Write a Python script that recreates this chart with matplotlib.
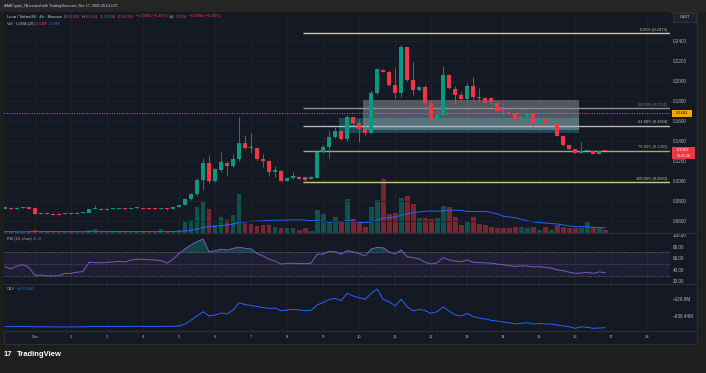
import numpy as np
import pandas as pd
import matplotlib
matplotlib.use("Agg")
import matplotlib.pyplot as plt
import matplotlib.transforms as mtransforms
from matplotlib.patches import Rectangle
from matplotlib.lines import Line2D

plt.rcParams['font.family'] = ['Liberation Sans', 'DejaVu Sans']

# LUNA/USDT 4h candles
opens = [
    0.0717, 0.0730, 0.0717, 0.0732, 0.0732, 0.0722, 0.0669, 0.0672, 0.0669, 0.0669,
    0.0667, 0.0677, 0.0674, 0.0674, 0.0680, 0.0720, 0.0721, 0.0712, 0.0717, 0.0719,
    0.0723, 0.0719, 0.0722, 0.0727, 0.0727, 0.0727, 0.0723, 0.0722, 0.0714, 0.0737,
    0.0757, 0.0817, 0.0868, 0.1008, 0.1182, 0.0998, 0.1108, 0.1179, 0.1149, 0.1216,
    0.1382, 0.1336, 0.1329, 0.1219, 0.1202, 0.1091, 0.1098, 0.1001, 0.1025, 0.1041,
    0.1035, 0.1018, 0.1031, 0.1286, 0.1339, 0.1443, 0.1497, 0.1416, 0.1637, 0.1577,
    0.1520, 0.1477, 0.1878, 0.2112, 0.2095, 0.1961, 0.1878, 0.2339, 0.2011, 0.1911,
    0.1944, 0.1784, 0.1617, 0.1660, 0.2062, 0.1921, 0.1861, 0.1818, 0.1951, 0.1838,
    0.1831, 0.1828, 0.1778, 0.1705, 0.1693, 0.1677, 0.1617, 0.1637, 0.1670, 0.1577,
    0.1620, 0.1574, 0.1577, 0.1453, 0.1359, 0.1316, 0.1282, 0.1299, 0.1302, 0.1269,
    0.1309]
highs = [
    0.0742, 0.0737, 0.0737, 0.0737, 0.0737, 0.0727, 0.0677, 0.0674, 0.0672, 0.0672,
    0.0677, 0.0680, 0.0682, 0.0684, 0.0717, 0.0752, 0.0724, 0.0722, 0.0720, 0.0727,
    0.0727, 0.0727, 0.0734, 0.0730, 0.0730, 0.0730, 0.0727, 0.0727, 0.0737, 0.0762,
    0.0827, 0.0878, 0.1023, 0.1229, 0.1259, 0.1128, 0.1289, 0.1199, 0.1269, 0.1643,
    0.1460, 0.1480, 0.1339, 0.1269, 0.1209, 0.1149, 0.1108, 0.1028, 0.1091, 0.1048,
    0.1038, 0.1048, 0.1309, 0.1359, 0.1510, 0.1543, 0.1510, 0.1660, 0.1640, 0.1620,
    0.1577, 0.1911, 0.2132, 0.2117, 0.2102, 0.2132, 0.2363, 0.2347, 0.2195, 0.1951,
    0.1961, 0.1811, 0.1730, 0.2152, 0.2072, 0.1951, 0.1894, 0.1978, 0.2045, 0.1928,
    0.1836, 0.1844, 0.1781, 0.1794, 0.1700, 0.1680, 0.1677, 0.1710, 0.1675, 0.1625,
    0.1625, 0.1590, 0.1580, 0.1460, 0.1364, 0.1324, 0.1392, 0.1309, 0.1309, 0.1309,
    0.1314]
lows = [
    0.0712, 0.0712, 0.0712, 0.0727, 0.0712, 0.0662, 0.0667, 0.0662, 0.0657, 0.0660,
    0.0664, 0.0667, 0.0672, 0.0672, 0.0678, 0.0717, 0.0710, 0.0710, 0.0714, 0.0717,
    0.0712, 0.0717, 0.0719, 0.0717, 0.0717, 0.0717, 0.0720, 0.0702, 0.0712, 0.0732,
    0.0752, 0.0812, 0.0848, 0.0908, 0.0978, 0.0988, 0.1088, 0.1048, 0.1139, 0.1202,
    0.1324, 0.1279, 0.1209, 0.1141, 0.1048, 0.1038, 0.0993, 0.0998, 0.1018, 0.1013,
    0.0978, 0.1013, 0.1025, 0.1279, 0.1229, 0.1434, 0.1409, 0.1404, 0.1570, 0.1392,
    0.1460, 0.1470, 0.1871, 0.2087, 0.1951, 0.1831, 0.1844, 0.2001, 0.1861, 0.1901,
    0.1693, 0.1603, 0.1570, 0.1650, 0.1921, 0.1771, 0.1794, 0.1761, 0.1811, 0.1794,
    0.1776, 0.1761, 0.1695, 0.1660, 0.1675, 0.1610, 0.1610, 0.1630, 0.1527, 0.1570,
    0.1565, 0.1565, 0.1445, 0.1349, 0.1309, 0.1274, 0.1274, 0.1289, 0.1264, 0.1264,
    0.1294]
closes = [
    0.0732, 0.0717, 0.0730, 0.0734, 0.0717, 0.0667, 0.0675, 0.0664, 0.0662, 0.0662,
    0.0675, 0.0669, 0.0679, 0.0682, 0.0714, 0.0722, 0.0712, 0.0719, 0.0717, 0.0725,
    0.0714, 0.0725, 0.0732, 0.0719, 0.0719, 0.0719, 0.0724, 0.0712, 0.0734, 0.0754,
    0.0817, 0.0868, 0.1008, 0.1182, 0.0998, 0.1118, 0.1189, 0.1149, 0.1219, 0.1382,
    0.1334, 0.1333, 0.1216, 0.1196, 0.1091, 0.1108, 0.1001, 0.1025, 0.1048, 0.1018,
    0.1008, 0.1041, 0.1289, 0.1339, 0.1443, 0.1500, 0.1416, 0.1637, 0.1577, 0.1523,
    0.1477, 0.1878, 0.2119, 0.2095, 0.1961, 0.1878, 0.2339, 0.2011, 0.1911, 0.1944,
    0.1784, 0.1617, 0.1660, 0.2062, 0.1928, 0.1861, 0.1818, 0.1951, 0.1838, 0.1831,
    0.1784, 0.1794, 0.1703, 0.1700, 0.1683, 0.1617, 0.1637, 0.1670, 0.1577, 0.1620,
    0.1570, 0.1578, 0.1453, 0.1359, 0.1316, 0.1282, 0.1302, 0.1301, 0.1269, 0.1302,
    0.1303]
# volume in millions of LUNA
volumes = [
    1.1, 0.8, 0.7, 0.7, 1.1, 2.1, 1.1, 1.1, 0.8, 0.8,
    0.7, 0.8, 0.7, 0.8, 1.8, 2.5, 1.1, 0.8, 0.7, 0.7,
    0.8, 0.7, 0.8, 0.8, 0.7, 1.1, 2.5, 1.1, 1.4, 1.8,
    7.4, 8.8, 17.9, 22.4, 16.8, 5.6, 11.2, 8.8, 12.6, 27.3,
    7.0, 6.5, 4.9, 5.6, 5.6, 3.9, 3.2, 3.2, 3.5, 2.3,
    3.7, 1.5, 16.1, 13.0, 8.4, 11.0, 8.6, 23.8, 9.8, 6.8,
    4.0, 18.0, 23.3, 38.0, 13.5, 14.2, 24.3, 26.1, 20.1, 10.7,
    10.3, 9.6, 10.7, 18.7, 18.0, 11.4, 5.8, 7.5, 11.0, 6.1,
    5.8, 4.0, 3.3, 3.3, 3.3, 4.0, 4.0, 3.3, 4.0, 2.1,
    4.0, 2.3, 5.4, 4.0, 3.3, 3.3, 3.3, 7.5, 3.3, 3.3,
    2.32]
rsi = [
    45, 42, 46.5, 49, 44, 30.5, 31, 30, 29.5, 30,
    34, 34, 36, 37, 53, 52.5, 52, 53, 53.5, 54.5,
    53.5, 57, 58.5, 58, 57.5, 57, 56, 51.5, 58, 68,
    76, 83, 88.5, 93, 71, 73, 75.5, 74, 77, 79,
    77, 76, 68, 64, 58, 55, 50, 51, 51.5, 51,
    50.5, 51.5, 66.8, 67.3, 72, 71.3, 66.8, 73, 71, 68,
    64, 76, 78.5, 78, 71, 67.3, 74.2, 62.5, 61, 59,
    53, 50.1, 52, 61, 57, 55, 54, 57, 53, 52.5,
    52, 51.5, 50, 49, 47.2, 46, 47, 46.5, 45, 45.5,
    44.5, 43, 40, 38.6, 36, 34, 34.5, 35.8, 34, 36.5,
    35.18]
# on-balance volume, millions
obv = [
    -468, -470, -469, -468, -470, -472, -471, -472, -473, -474,
    -473, -474, -473, -472, -470, -468, -469, -468, -468, -467,
    -468, -467, -466, -467, -468, -469, -466, -467, -466, -462,
    -437, -387, -336, -283, -336, -324, -299, -311, -261, -170,
    -192, -205, -217, -230, -242, -236, -270, -262, -252, -261,
    -270, -267, -198, -167, -129, -114, -144, -52, -85, -107,
    -127, -54, 2.5, -127, -157, -211, -127, -220, -274, -252,
    -270, -303, -283, -220, -274, -324, -336, -303, -345, -362,
    -374, -390, -399, -412, -421, -437, -428, -421, -437, -431,
    -437, -437, -449, -460, -471, -491, -471, -478, -491, -487,
    -483]

day_labels = ['Dec', '2', '3', '4', '5', '6', '7', '8', '9', '10',
              '11', '12', '13', '14', '15', '16', '17', '18']
dec1_candle = 5          # candle index at Dec 1 00:00
candles_per_day = 6

fib_levels = [0.2479, 0.1731, 0.1554, 0.1303, 0.0983]
fib_names = ['0.00%', '50.00%', '61.80%', '78.60%', '100.00%']
fib_colors = ['#cdc7a0', '#8e8e8e', '#b9b9b9', '#a9a67c', '#cbc47f']
fib_start = 49.7

gray_zone = (59.7, 95.7, 0.1510, 0.1811)   # x0, x1, low, high
teal_zone = (55.7, 95.7, 0.1477, 0.1630)
alert_price = 0.1681

W, H = 706, 373
BG = '#151924'
GRID = '#1e222d'
TXT = '#b2b5be'
UP = '#089981'
DOWN = '#f23645'
BLUE = '#2962ff'
PURPLE = '#7e57c2'


def pane(fig, y0, y1, sharex=None):
    ax = fig.add_axes([4 / W, 1 - y1 / H, 666 / W, (y1 - y0) / H], sharex=sharex)
    ax.set_facecolor(BG)
    for s in ax.spines.values():
        s.set_visible(False)
    ax.tick_params(length=0, labelsize=3.3, colors=TXT, pad=2.2,
                   labelbottom=False, labelleft=False, left=False, bottom=False)
    return ax


def fig_rect(fig, x0, y0, x1, y1, z=5, **kw):
    fig.add_artist(Rectangle((x0 / W, 1 - y1 / H), (x1 - x0) / W, (y1 - y0) / H,
                             transform=fig.transFigure, zorder=z, **kw))


def fig_text(fig, x, y, s, **kw):
    return fig.text(x / W, 1 - y / H, s, zorder=6, **kw)


def text_run(fig, x, y, parts, size):
    r = fig.canvas.get_renderer()
    for s, c in parts:
        t = fig_text(fig, x, y, s, color=c, fontsize=size, va='center', ha='left')
        x += t.get_window_extent(renderer=r).width + 1.5


def main():
    fig = plt.figure(figsize=(W / 100, H / 100), dpi=100, facecolor='#1e1e1e')
    fig_rect(fig, 0, 0, W, 12, z=-10, facecolor='#262626', lw=0)
    fig_rect(fig, 4, 12, 697, 344, z=-10, facecolor=BG, edgecolor='#2a2e39', lw=0.8)

    x = np.arange(len(closes))
    o, h, l, c = map(np.array, (opens, highs, lows, closes))
    up = c >= o
    colors = np.where(up, UP, DOWN)
    days = [dec1_candle + candles_per_day * k for k in range(len(day_labels))]

    # volume sits under the price pane
    ax_vol = pane(fig, 12, 233)
    ax_vol.bar(x, volumes, width=0.8, color=colors, alpha=0.45, lw=0)
    vma = pd.Series(volumes).rolling(20, min_periods=1).mean()
    ax_vol.plot(x, vma, color=BLUE, lw=0.7)
    ax_vol.set_ylim(0, 154.7)
    ax_vol.set_xticks(days)
    ax_vol.grid(axis='x', color=GRID, lw=0.6)
    ax_vol.set_axisbelow(True)
    ax_vol.set_yticks([])

    ax = pane(fig, 12, 233, sharex=ax_vol)
    ax.patch.set_alpha(0)
    ax.set_ylim(0.0476, 0.2694)
    ax.set_xlim(-0.17, 110.8)
    ticks = np.round(np.arange(0.06, 0.2401, 0.02), 2)
    ax.set_yticks(ticks)
    ax.set_yticklabels([f'{t:.4f}' for t in ticks])
    ax.yaxis.tick_right()
    ax.tick_params(axis='y', labelright=True, right=False)
    ax.grid(axis='y', color=GRID, lw=0.6)
    ax.set_axisbelow(True)

    ax.add_patch(Rectangle((teal_zone[0], teal_zone[2]), teal_zone[1] - teal_zone[0],
                           teal_zone[3] - teal_zone[2], facecolor='#26a0a8', alpha=0.35, lw=0, zorder=1))
    ax.add_patch(Rectangle((gray_zone[0], gray_zone[2]), gray_zone[1] - gray_zone[0],
                           gray_zone[3] - gray_zone[2], facecolor='#b2b5be', alpha=0.4, lw=0, zorder=1))

    ax.axhline(alert_price, color='#f7a600', lw=0.6, ls=(0, (1, 2)), zorder=2)

    trans = mtransforms.blended_transform_factory(ax.transAxes, ax.transData)
    for lvl, name, col in zip(fib_levels, fib_names, fib_colors):
        ax.hlines(lvl, fib_start, 110.8, color=col, lw=1.0, zorder=2)
        ax.text(0.996, lvl + 0.0012, f'{name} ({lvl:.4f})', transform=trans,
                ha='right', va='bottom', fontsize=2.9, color=col)

    ax.vlines(x, l, h, colors=colors, lw=0.6, zorder=3)
    body = np.maximum(np.abs(c - o), 0.0010)
    mid = (c + o) / 2
    ax.bar(x, body, bottom=mid - body / 2, width=0.72, color=colors, lw=0, zorder=4)

    # RSI pane
    ax_rsi = pane(fig, 233, 284, sharex=ax_vol)
    r = np.array(rsi)
    ax_rsi.axhspan(30, 70, color=PURPLE, alpha=0.1, lw=0)
    for lvl, ls in ((70, (0, (2, 2))), (50, (0, (1, 2))), (30, (0, (2, 2)))):
        ax_rsi.axhline(lvl, color='#787b86', lw=0.5, ls=ls)
    ax_rsi.fill_between(x, r, 70, where=r > 70, interpolate=True, color=UP, alpha=0.35, lw=0)
    ax_rsi.fill_between(x, r, 30, where=r < 30, interpolate=True, color=DOWN, alpha=0.35, lw=0)
    ax_rsi.plot(x, r, color=PURPLE, lw=0.7)
    ax_rsi.set_ylim(15.7, 103.4)
    ax_rsi.set_yticks([20, 40, 60, 80, 100])
    ax_rsi.set_yticklabels(['20.00', '40.00', '60.00', '80.00', '100.00'])
    ax_rsi.yaxis.tick_right()
    ax_rsi.tick_params(axis='y', labelright=True, right=False)
    ax_rsi.grid(axis='x', color=GRID, lw=0.6)
    ax_rsi.set_axisbelow(True)

    # OBV pane
    ax_obv = pane(fig, 284, 331, sharex=ax_vol)
    ax_obv.plot(x, obv, color=BLUE, lw=0.7)
    ax_obv.set_ylim(-524.7, 65.3)
    ax_obv.set_yticks([-126.8, -336.44])
    ax_obv.set_yticklabels(['\u2212126.8M', '\u2212336.44M'])
    ax_obv.yaxis.tick_right()
    ax_obv.tick_params(axis='y', labelright=True, right=False)
    ax_obv.set_xticklabels(day_labels)
    ax_obv.tick_params(axis='x', labelbottom=True, labelsize=3, pad=3)
    ax_obv.grid(axis='x', color=GRID, lw=0.6)
    ax_obv.set_axisbelow(True)
    ax_obv.set_xlim(-0.17, 110.8)

    for yy in (233, 284, 331):
        fig.add_artist(Line2D([4 / W, 697 / W], [1 - yy / H] * 2, color='#2a2e39', lw=0.8, zorder=5))

    # price scale badges
    fig_rect(fig, 673, 13, 696, 22, facecolor='#1e222d', edgecolor='#363a45', lw=0.5)
    fig_text(fig, 684.5, 17.5, 'USDT', fontsize=2.8, color='#d1d4dc', ha='center', va='center')
    fig_rect(fig, 672, 110, 692, 117, facecolor='#f7a600', lw=0)
    fig_text(fig, 682, 113.5, f'{alert_price:.4f}', fontsize=3, color='#131722', ha='center', va='center')
    fig_rect(fig, 672, 147, 695, 159, facecolor=DOWN, lw=0)
    fig_text(fig, 683.5, 150.5, f'{closes[-1]:.4f}', fontsize=3, color='white', ha='center', va='center')
    fig_text(fig, 683.5, 156, '00:45:26', fontsize=2.6, color='white', ha='center', va='center')

    # header and legends
    fig_text(fig, 4, 6, 'AABCrypto_TA created with TradingView.com, Dec 17, 2025 09:14 UTC',
             fontsize=2.6, color='#d1d4dc', va='center')
    text_run(fig, 7, 16.5, [('Luna / TetherUS \u00b7 4h \u00b7 Binance', '#d1d4dc'),
                            ('O', TXT), (f'{opens[-1]:.4f}', DOWN),
                            ('H', TXT), (f'{highs[-1]:.4f}', DOWN),
                            ('L', TXT), (f'{lows[-1]:.4f}', DOWN),
                            ('C', TXT), (f'{closes[-1]:.4f}', DOWN),
                            ('\u22120.0006 (\u22120.46%)', DOWN),
                            ('Vol', TXT), ('2.32M', DOWN),
                            ('\u22120.0006 (\u22120.46%)', DOWN)], 2.9)
    text_run(fig, 7, 24, [('Vol \u00b7 LUNA (20)', TXT), ('2.32M', DOWN), ('3.28M', BLUE)], 2.9)
    text_run(fig, 7, 239, [('RSI (14, close)', TXT), (f'{rsi[-1]:.2f}', PURPLE)], 2.7)
    text_run(fig, 7, 289, [('OBV', TXT), ('\u2212336.44M', BLUE)], 2.7)

    fig_text(fig, 4, 355, '17', fontsize=5.5, fontweight='bold', color='white', va='center')
    fig_text(fig, 17, 355, 'TradingView', fontsize=5.5, fontweight='bold', color='white', va='center')

    fig.savefig('out.png', dpi=100, facecolor=fig.get_facecolor())


if __name__ == "__main__":
    main()
